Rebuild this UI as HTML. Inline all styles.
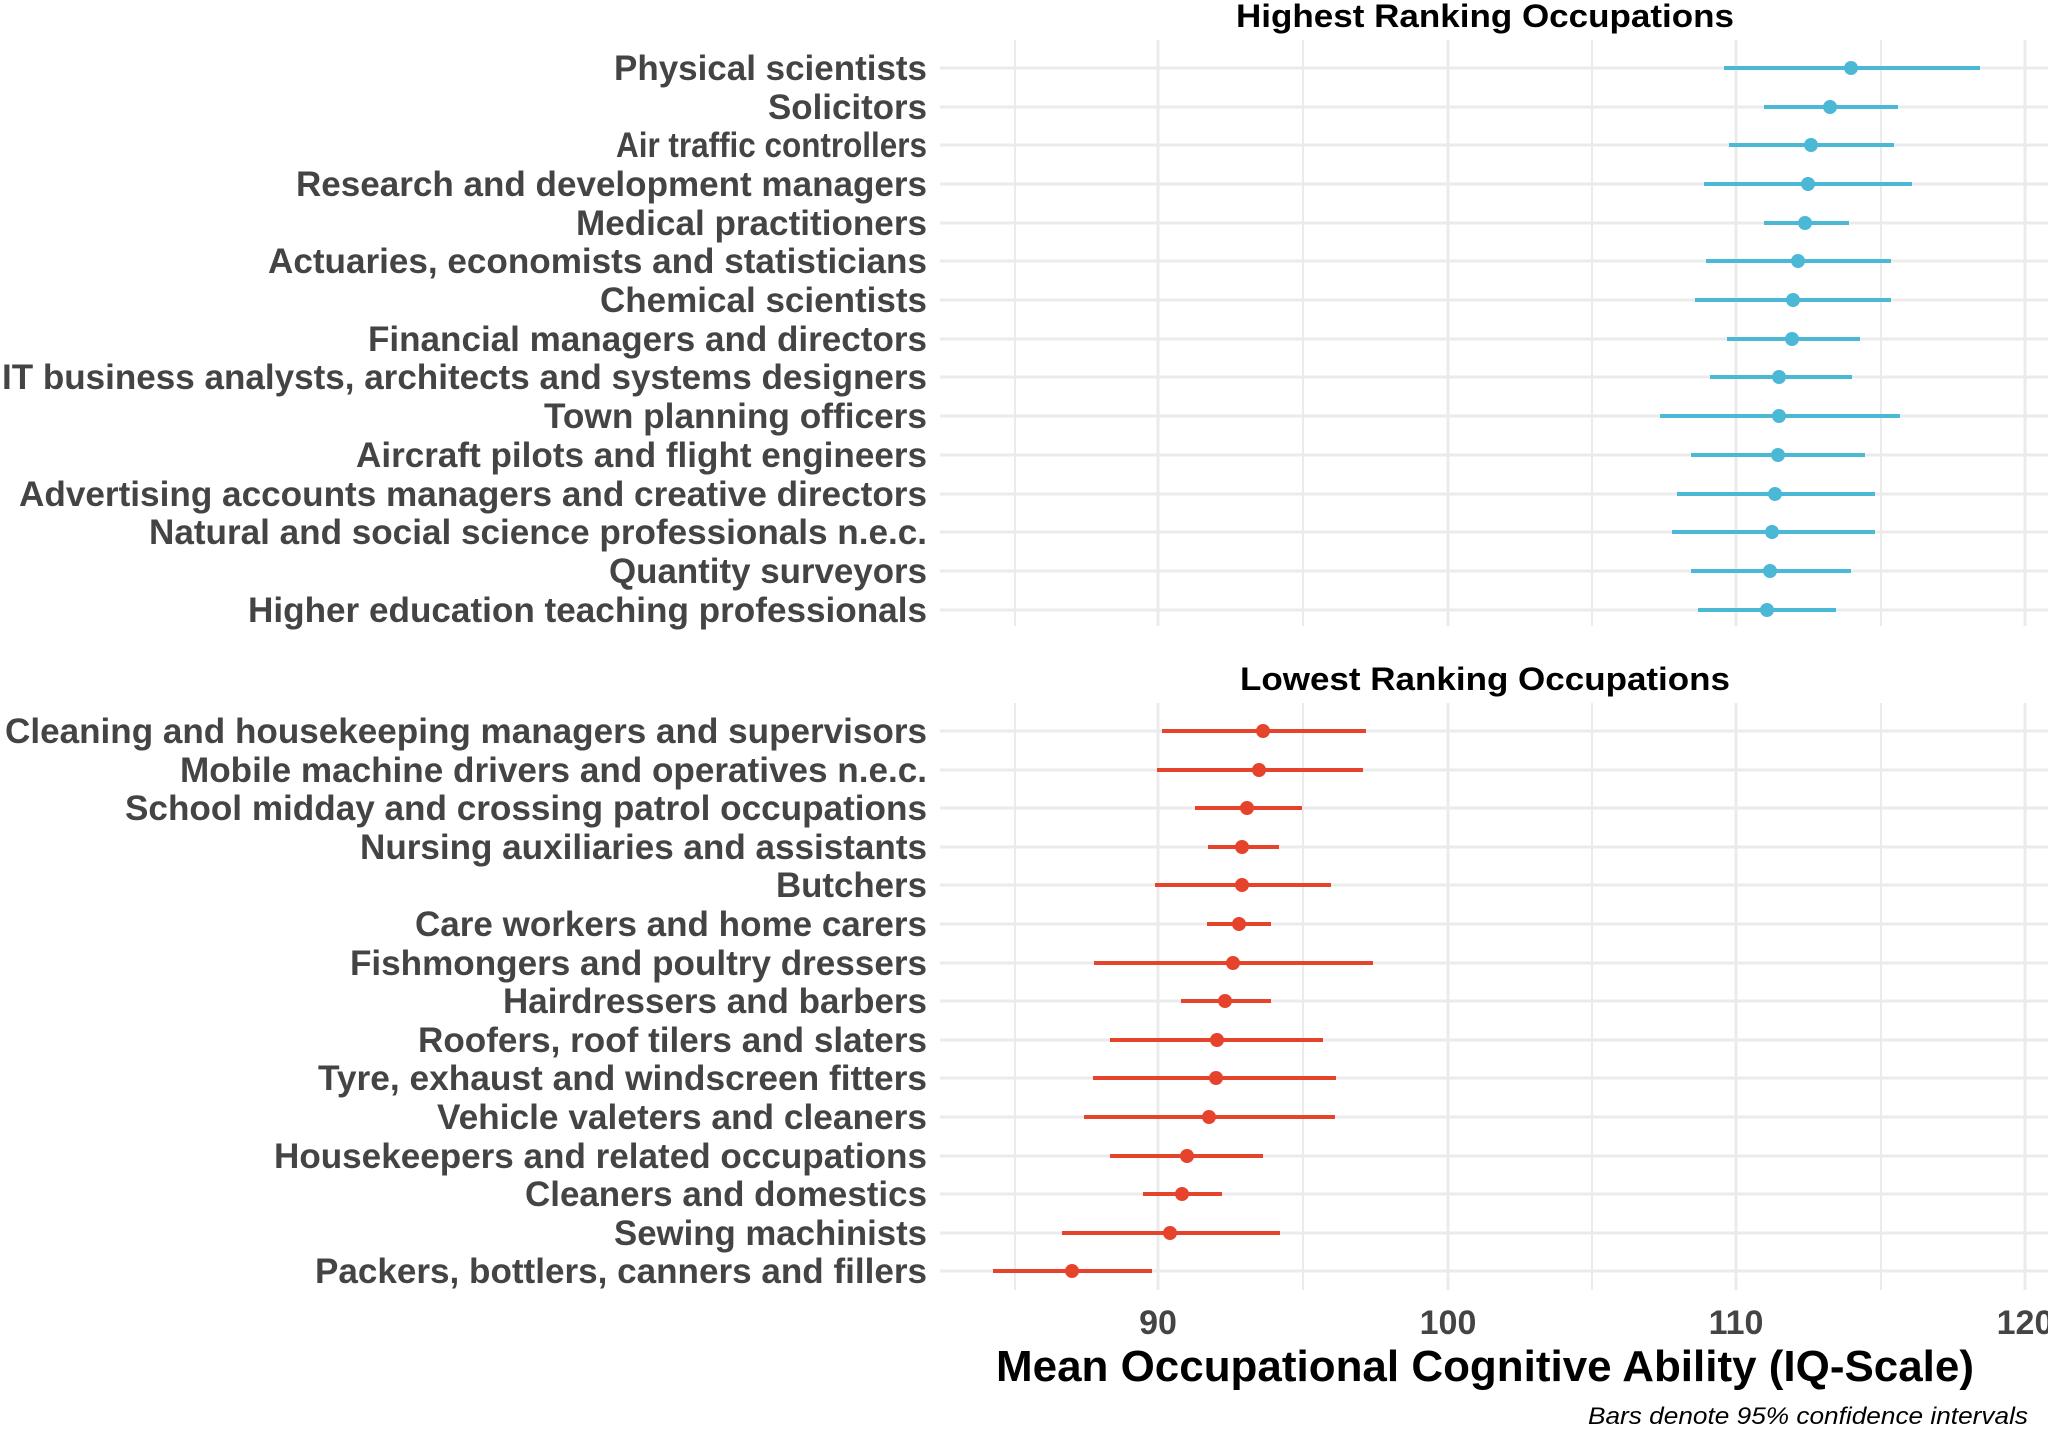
<!DOCTYPE html>
<html><head><meta charset="utf-8"><style>
html,body{margin:0;padding:0;background:#fff;}
svg{display:block;font-family:"Liberation Sans",Arial,sans-serif;}
.lab{font-size:35px;font-weight:bold;fill:#444;text-anchor:end;}
.b{stroke:#4bb8d6;stroke-width:4;}
.r{stroke:#e5432c;stroke-width:4;}
</style></head><body>
<svg width="2048" height="1429" viewBox="0 0 2048 1429" xmlns="http://www.w3.org/2000/svg">
<g stroke="#ebebeb" stroke-width="2">
<line x1="1015" y1="40" x2="1015" y2="626"/><line x1="1303" y1="40" x2="1303" y2="626"/><line x1="1592" y1="40" x2="1592" y2="626"/><line x1="1881" y1="40" x2="1881" y2="626"/>
<line x1="1015" y1="703" x2="1015" y2="1290"/><line x1="1303" y1="703" x2="1303" y2="1290"/><line x1="1592" y1="703" x2="1592" y2="1290"/><line x1="1881" y1="703" x2="1881" y2="1290"/>
</g>
<g stroke="#ebebeb" stroke-width="3">
<line x1="1158" y1="40" x2="1158" y2="626"/><line x1="1448" y1="40" x2="1448" y2="626"/><line x1="1736" y1="40" x2="1736" y2="626"/><line x1="2025" y1="40" x2="2025" y2="626"/>
<line x1="1158" y1="703" x2="1158" y2="1290"/><line x1="1448" y1="703" x2="1448" y2="1290"/><line x1="1736" y1="703" x2="1736" y2="1290"/><line x1="2025" y1="703" x2="2025" y2="1290"/>
<line x1="940" y1="68" x2="2048" y2="68"/><line x1="940" y1="107" x2="2048" y2="107"/><line x1="940" y1="145" x2="2048" y2="145"/><line x1="940" y1="184" x2="2048" y2="184"/><line x1="940" y1="223" x2="2048" y2="223"/><line x1="940" y1="261" x2="2048" y2="261"/><line x1="940" y1="300" x2="2048" y2="300"/><line x1="940" y1="339" x2="2048" y2="339"/><line x1="940" y1="377" x2="2048" y2="377"/><line x1="940" y1="416" x2="2048" y2="416"/><line x1="940" y1="455" x2="2048" y2="455"/><line x1="940" y1="494" x2="2048" y2="494"/><line x1="940" y1="532" x2="2048" y2="532"/><line x1="940" y1="571" x2="2048" y2="571"/><line x1="940" y1="610" x2="2048" y2="610"/>
<line x1="940" y1="731" x2="2048" y2="731"/><line x1="940" y1="770" x2="2048" y2="770"/><line x1="940" y1="808" x2="2048" y2="808"/><line x1="940" y1="847" x2="2048" y2="847"/><line x1="940" y1="885" x2="2048" y2="885"/><line x1="940" y1="924" x2="2048" y2="924"/><line x1="940" y1="963" x2="2048" y2="963"/><line x1="940" y1="1001" x2="2048" y2="1001"/><line x1="940" y1="1040" x2="2048" y2="1040"/><line x1="940" y1="1078" x2="2048" y2="1078"/><line x1="940" y1="1117" x2="2048" y2="1117"/><line x1="940" y1="1156" x2="2048" y2="1156"/><line x1="940" y1="1194" x2="2048" y2="1194"/><line x1="940" y1="1233" x2="2048" y2="1233"/><line x1="940" y1="1271" x2="2048" y2="1271"/>
</g>
<text x="1485" y="27" font-size="32" font-weight="bold" text-anchor="middle" fill="#000" textLength="498" lengthAdjust="spacingAndGlyphs">Highest Ranking Occupations</text>
<text x="1485" y="690" font-size="32" font-weight="bold" text-anchor="middle" fill="#000" textLength="490" lengthAdjust="spacingAndGlyphs">Lowest Ranking Occupations</text>
<g class="lab">
<text x="927" y="80" textLength="313" lengthAdjust="spacingAndGlyphs">Physical scientists</text>
<text x="927" y="119" textLength="159" lengthAdjust="spacingAndGlyphs">Solicitors</text>
<text x="927" y="157" textLength="311" lengthAdjust="spacingAndGlyphs">Air traffic controllers</text>
<text x="927" y="196" textLength="631" lengthAdjust="spacingAndGlyphs">Research and development managers</text>
<text x="927" y="235" textLength="351" lengthAdjust="spacingAndGlyphs">Medical practitioners</text>
<text x="927" y="273" textLength="659" lengthAdjust="spacingAndGlyphs">Actuaries, economists and statisticians</text>
<text x="927" y="312" textLength="327" lengthAdjust="spacingAndGlyphs">Chemical scientists</text>
<text x="927" y="351" textLength="559" lengthAdjust="spacingAndGlyphs">Financial managers and directors</text>
<text x="927" y="389" textLength="925" lengthAdjust="spacingAndGlyphs">IT business analysts, architects and systems designers</text>
<text x="927" y="428" textLength="383" lengthAdjust="spacingAndGlyphs">Town planning officers</text>
<text x="927" y="467" textLength="571" lengthAdjust="spacingAndGlyphs">Aircraft pilots and flight engineers</text>
<text x="927" y="506" textLength="908" lengthAdjust="spacingAndGlyphs">Advertising accounts managers and creative directors</text>
<text x="927" y="544" textLength="778" lengthAdjust="spacingAndGlyphs">Natural and social science professionals n.e.c.</text>
<text x="927" y="583" textLength="318" lengthAdjust="spacingAndGlyphs">Quantity surveyors</text>
<text x="927" y="622" textLength="679" lengthAdjust="spacingAndGlyphs">Higher education teaching professionals</text>
<text x="927" y="743" textLength="922" lengthAdjust="spacingAndGlyphs">Cleaning and housekeeping managers and supervisors</text>
<text x="927" y="782" textLength="747" lengthAdjust="spacingAndGlyphs">Mobile machine drivers and operatives n.e.c.</text>
<text x="927" y="820" textLength="802" lengthAdjust="spacingAndGlyphs">School midday and crossing patrol occupations</text>
<text x="927" y="859" textLength="567" lengthAdjust="spacingAndGlyphs">Nursing auxiliaries and assistants</text>
<text x="927" y="897" textLength="151" lengthAdjust="spacingAndGlyphs">Butchers</text>
<text x="927" y="936" textLength="512" lengthAdjust="spacingAndGlyphs">Care workers and home carers</text>
<text x="927" y="975" textLength="577" lengthAdjust="spacingAndGlyphs">Fishmongers and poultry dressers</text>
<text x="927" y="1013" textLength="424" lengthAdjust="spacingAndGlyphs">Hairdressers and barbers</text>
<text x="927" y="1052" textLength="509" lengthAdjust="spacingAndGlyphs">Roofers, roof tilers and slaters</text>
<text x="927" y="1090" textLength="609" lengthAdjust="spacingAndGlyphs">Tyre, exhaust and windscreen fitters</text>
<text x="927" y="1129" textLength="490" lengthAdjust="spacingAndGlyphs">Vehicle valeters and cleaners</text>
<text x="927" y="1168" textLength="653" lengthAdjust="spacingAndGlyphs">Housekeepers and related occupations</text>
<text x="927" y="1206" textLength="402" lengthAdjust="spacingAndGlyphs">Cleaners and domestics</text>
<text x="927" y="1245" textLength="313" lengthAdjust="spacingAndGlyphs">Sewing machinists</text>
<text x="927" y="1283" textLength="612" lengthAdjust="spacingAndGlyphs">Packers, bottlers, canners and fillers</text>
</g>
<g class="b">
<line x1="1724" y1="68" x2="1980" y2="68"/><line x1="1764" y1="107" x2="1898" y2="107"/><line x1="1729" y1="145" x2="1894" y2="145"/><line x1="1704" y1="184" x2="1912" y2="184"/><line x1="1764" y1="223" x2="1849" y2="223"/><line x1="1706" y1="261" x2="1891" y2="261"/><line x1="1695" y1="300" x2="1891" y2="300"/><line x1="1727" y1="339" x2="1860" y2="339"/><line x1="1710" y1="377" x2="1852" y2="377"/><line x1="1660" y1="416" x2="1900" y2="416"/><line x1="1691" y1="455" x2="1865" y2="455"/><line x1="1677" y1="494" x2="1875" y2="494"/><line x1="1672" y1="532" x2="1875" y2="532"/><line x1="1691" y1="571" x2="1851" y2="571"/><line x1="1698" y1="610" x2="1836" y2="610"/>
</g>
<g fill="#4bb8d6">
<circle cx="1851" cy="68" r="7"/><circle cx="1830" cy="107" r="7"/><circle cx="1811" cy="145" r="7"/><circle cx="1808" cy="184" r="7"/><circle cx="1805" cy="223" r="7"/><circle cx="1798" cy="261" r="7"/><circle cx="1793" cy="300" r="7"/><circle cx="1792" cy="339" r="7"/><circle cx="1779" cy="377" r="7"/><circle cx="1779" cy="416" r="7"/><circle cx="1778" cy="455" r="7"/><circle cx="1775" cy="494" r="7"/><circle cx="1772" cy="532" r="7"/><circle cx="1770" cy="571" r="7"/><circle cx="1767" cy="610" r="7"/>
</g>
<g class="r">
<line x1="1162" y1="731" x2="1366" y2="731"/><line x1="1157" y1="770" x2="1363" y2="770"/><line x1="1195" y1="808" x2="1302" y2="808"/><line x1="1208" y1="847" x2="1279" y2="847"/><line x1="1155" y1="885" x2="1331" y2="885"/><line x1="1207" y1="924" x2="1271" y2="924"/><line x1="1094" y1="963" x2="1373" y2="963"/><line x1="1181" y1="1001" x2="1271" y2="1001"/><line x1="1110" y1="1040" x2="1323" y2="1040"/><line x1="1093" y1="1078" x2="1336" y2="1078"/><line x1="1084" y1="1117" x2="1335" y2="1117"/><line x1="1110" y1="1156" x2="1263" y2="1156"/><line x1="1143" y1="1194" x2="1222" y2="1194"/><line x1="1062" y1="1233" x2="1280" y2="1233"/><line x1="993" y1="1271" x2="1152" y2="1271"/>
</g>
<g fill="#e5432c">
<circle cx="1263" cy="731" r="7"/><circle cx="1259" cy="770" r="7"/><circle cx="1247" cy="808" r="7"/><circle cx="1242" cy="847" r="7"/><circle cx="1242" cy="885" r="7"/><circle cx="1239" cy="924" r="7"/><circle cx="1233" cy="963" r="7"/><circle cx="1225" cy="1001" r="7"/><circle cx="1217" cy="1040" r="7"/><circle cx="1216" cy="1078" r="7"/><circle cx="1209" cy="1117" r="7"/><circle cx="1187" cy="1156" r="7"/><circle cx="1182" cy="1194" r="7"/><circle cx="1170" cy="1233" r="7"/><circle cx="1072" cy="1271" r="7"/>
</g>
<g font-size="34" font-weight="bold" fill="#444" text-anchor="middle">
<text x="1158" y="1334">90</text><text x="1448" y="1334">100</text><text x="1736" y="1334">110</text><text x="2025" y="1334">120</text>
</g>
<text x="1485" y="1381" font-size="44" font-weight="bold" fill="#000" text-anchor="middle" textLength="978" lengthAdjust="spacingAndGlyphs">Mean Occupational Cognitive Ability (IQ-Scale)</text>
<text x="2028" y="1424" font-size="24" font-style="italic" fill="#000" text-anchor="end" textLength="440" lengthAdjust="spacingAndGlyphs">Bars denote 95% confidence intervals</text>
</svg>
</body></html>
